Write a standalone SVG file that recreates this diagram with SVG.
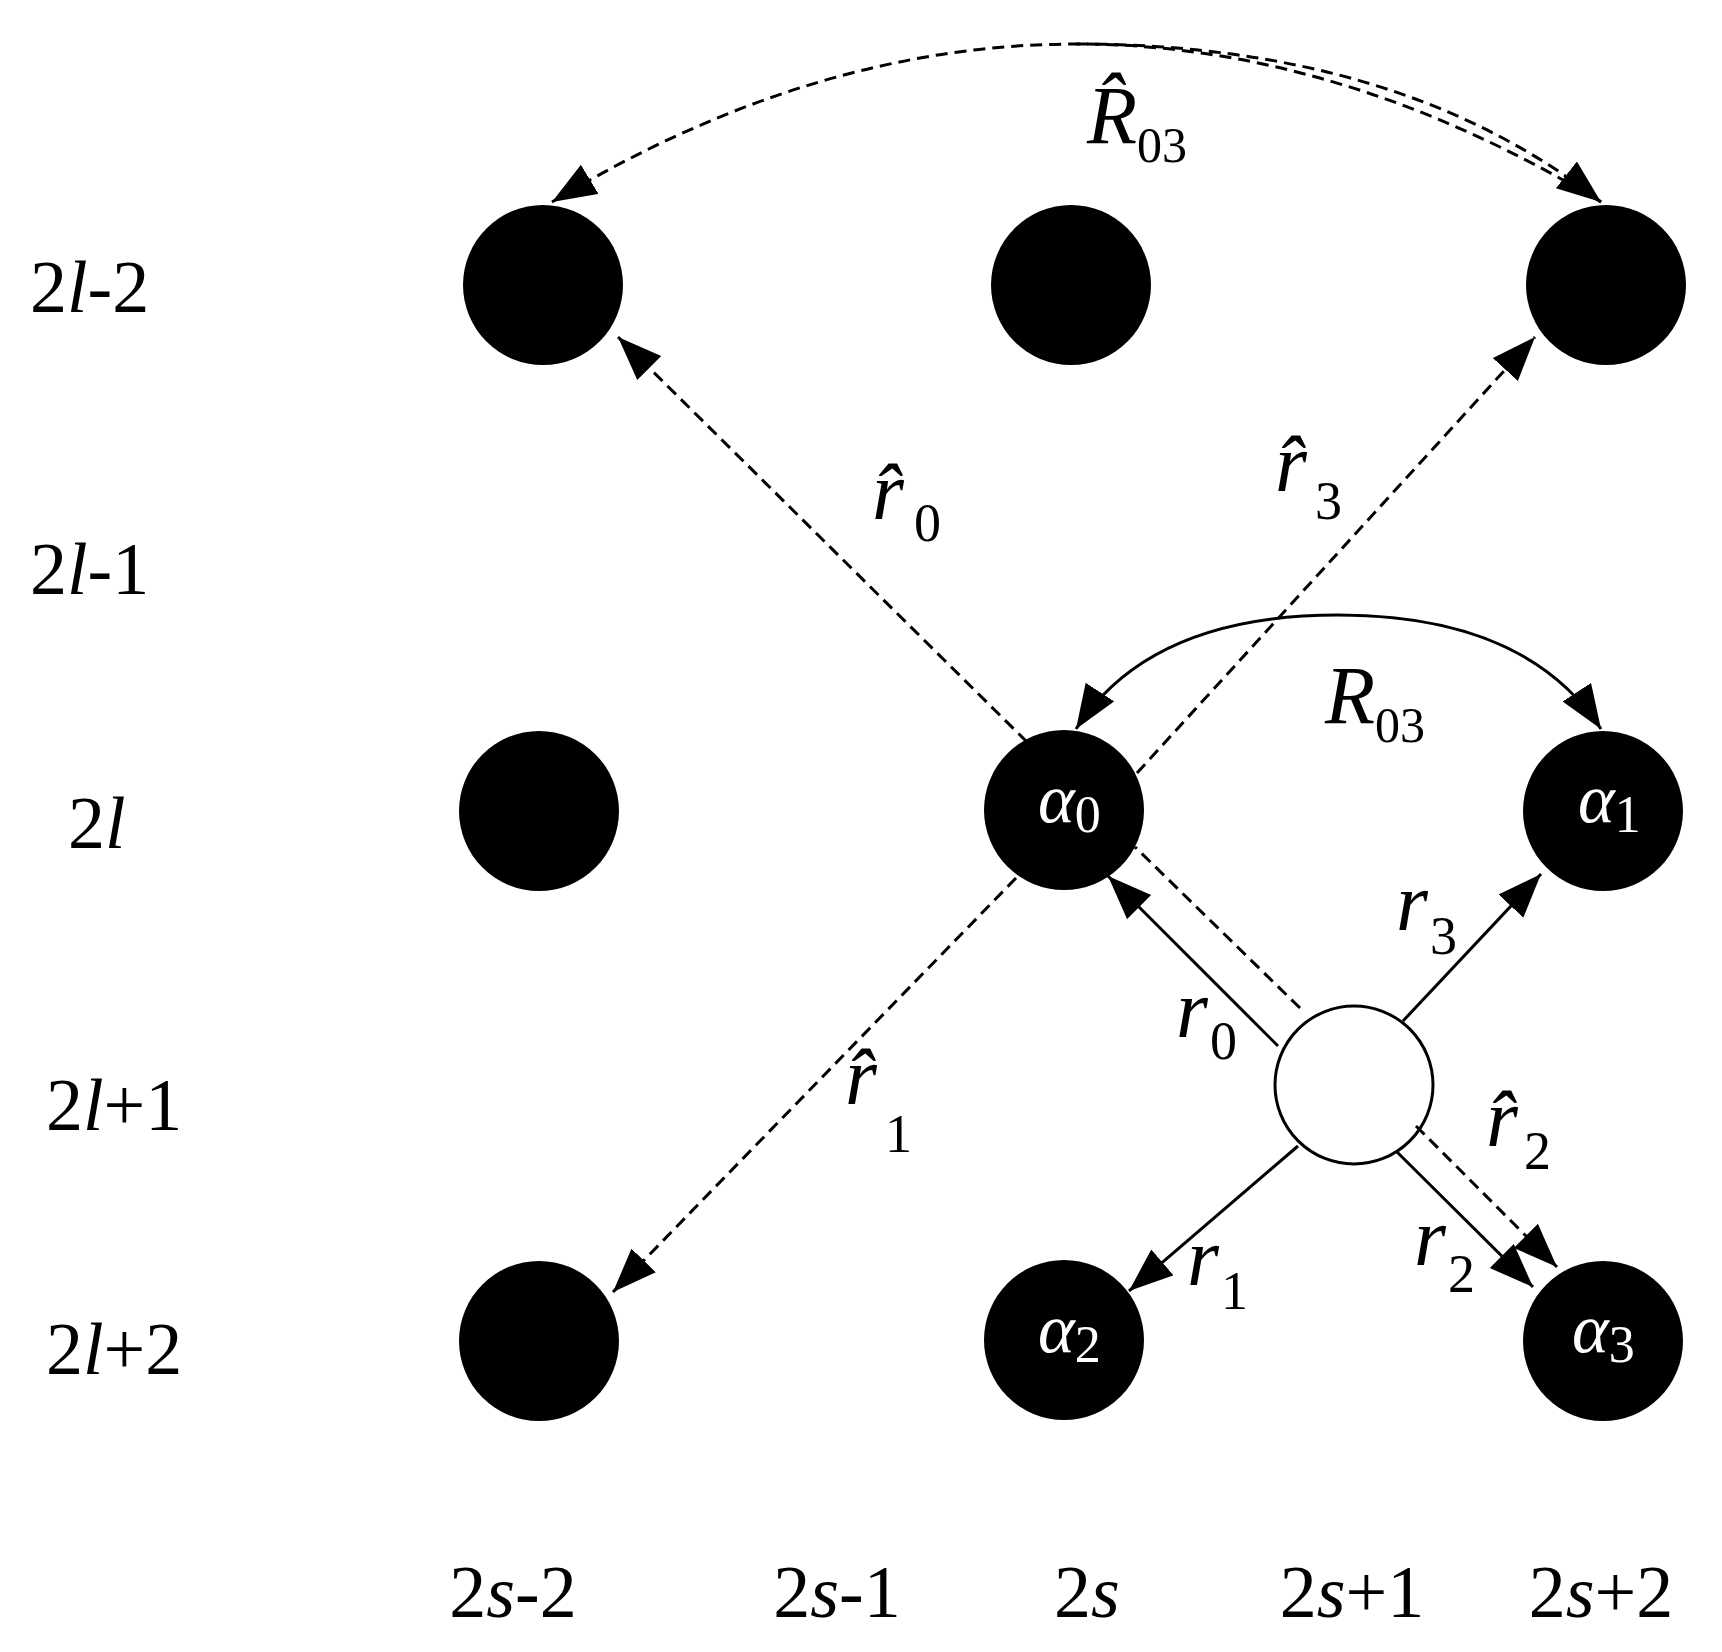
<svg xmlns="http://www.w3.org/2000/svg" width="1722" height="1652" viewBox="0 0 1722 1652">
<style>
.t{font-family:'Liberation Serif','Times New Roman','DejaVu Serif',serif;fill:#000}
.i{font-style:italic}
.w{fill:#fff}
.n{fill:#000}
.s{fill:none;stroke:#000;stroke-width:3}
.d{fill:none;stroke:#000;stroke-width:3;stroke-dasharray:12 7}
</style>
<defs>
<marker id="a" markerUnits="userSpaceOnUse" markerWidth="46" markerHeight="36" refX="44" refY="17" orient="auto"><path d="M0,0 L44,17 L0,34 z" fill="#000"/></marker>
</defs>
<rect width="1722" height="1652" fill="#fff"/>
<g id="rowlabels" class="t" font-family="Liberation Serif, serif" font-size="74">
<text x="30" y="312">2<tspan class="i">l</tspan>-2</text>
<text x="30" y="594">2<tspan class="i">l</tspan>-1</text>
<text x="68" y="848">2<tspan class="i">l</tspan></text>
<text x="46" y="1130">2<tspan class="i">l</tspan>+1</text>
<text x="46" y="1374">2<tspan class="i">l</tspan>+2</text>
</g>
<g id="collabels" class="t" font-family="Liberation Serif, serif" font-size="74" text-anchor="middle">
<text x="513" y="1617">2<tspan class="i">s</tspan>-2</text>
<text x="837" y="1617">2<tspan class="i">s</tspan>-1</text>
<text x="1087" y="1617">2<tspan class="i">s</tspan></text>
<text x="1352" y="1617">2<tspan class="i">s</tspan>+1</text>
<text x="1601" y="1617">2<tspan class="i">s</tspan>+2</text>
</g>
<g id="n_tl"><circle class="n" cx="543" cy="285" r="80"/></g>
<g id="n_tm"><circle class="n" cx="1071" cy="285" r="80"/></g>
<g id="n_tr"><circle class="n" cx="1606" cy="285" r="80"/></g>
<g id="n_ml"><circle class="n" cx="539" cy="811" r="80"/></g>
<g id="n_a0"><circle class="n" cx="1064" cy="810" r="80"/><text class="t w i" font-family="Liberation Serif, serif" x="1038" y="822" font-size="70">α<tspan font-style="normal" font-size="52" dy="10">0</tspan></text></g>
<g id="n_a1"><circle class="n" cx="1603" cy="811" r="80"/><text class="t w i" font-family="Liberation Serif, serif" x="1578" y="822" font-size="70">α<tspan font-style="normal" font-size="52" dy="10">1</tspan></text></g>
<g id="n_c"><circle cx="1354" cy="1085" r="79" fill="#fff" stroke="#000" stroke-width="3"/></g>
<g id="n_bl"><circle class="n" cx="539" cy="1341" r="80"/></g>
<g id="n_a2"><circle class="n" cx="1064" cy="1340" r="80"/><text class="t w i" font-family="Liberation Serif, serif" x="1038" y="1352" font-size="70">α<tspan font-style="normal" font-size="52" dy="10">2</tspan></text></g>
<g id="n_a3"><circle class="n" cx="1603" cy="1341" r="80"/><text class="t w i" font-family="Liberation Serif, serif" x="1572" y="1352" font-size="70">α<tspan font-style="normal" font-size="52" dy="10">3</tspan></text></g>
<g id="connectors">
<path class="d" d="M1601,202 Q1076,-114 552,202" marker-end="url(#a)"/>
<path class="d" d="M1076,44 Q1400,44 1601,202" marker-end="url(#a)"/>
<path class="d" d="M1027,742 L618,337" marker-end="url(#a)"/>
<path class="d" d="M1137,773 L1535,337" marker-end="url(#a)"/>
<path class="d" d="M1016,878 L613,1292" marker-end="url(#a)"/>
<path class="s" d="M1338,615 Q1150,615 1076,729" marker-end="url(#a)"/>
<path class="s" d="M1338,615 Q1526,615 1601,729" marker-end="url(#a)"/>
<path class="s" d="M1278,1046 L1108,876" marker-end="url(#a)"/>
<path class="d" d="M1300,1008 L1135,847"/>
<path class="s" d="M1403,1021 L1541,874" marker-end="url(#a)"/>
<path class="s" d="M1298,1146 L1129,1291" marker-end="url(#a)"/>
<path class="s" d="M1396,1151 L1533,1287" marker-end="url(#a)"/>
<path class="d" d="M1416,1126 L1557,1267" marker-end="url(#a)"/>
</g>
<g id="labels" class="t" font-family="Liberation Serif, serif" font-size="82">
<text class="i" x="1087" y="143">R̂<tspan font-style="normal" font-size="50" dy="19">03</tspan></text>
<text class="i" x="1325" y="723">R<tspan font-style="normal" font-size="50" dy="19">03</tspan></text>
<text class="i" x="872" y="519">r̂<tspan font-style="normal" font-size="54" dx="10" dy="22">0</tspan></text>
<text class="i" x="1275" y="491">r̂<tspan font-style="normal" font-size="54" dx="8" dy="28">3</tspan></text>
<text class="i" x="845" y="1104">r̂<tspan font-style="normal" font-size="54" dx="8" dy="48">1</tspan></text>
<text class="i" x="1176" y="1037">r<tspan font-style="normal" font-size="54" dx="2" dy="22">0</tspan></text>
<text class="i" x="1396" y="930">r<tspan font-style="normal" font-size="54" dx="2" dy="24">3</tspan></text>
<text class="i" x="1187" y="1285">r<tspan font-style="normal" font-size="54" dx="2" dy="24">1</tspan></text>
<text class="i" x="1414" y="1265">r<tspan font-style="normal" font-size="54" dx="2" dy="27">2</tspan></text>
<text class="i" x="1486" y="1146">r̂<tspan font-style="normal" font-size="54" dx="6" dy="23">2</tspan></text>
</g>
</svg>
